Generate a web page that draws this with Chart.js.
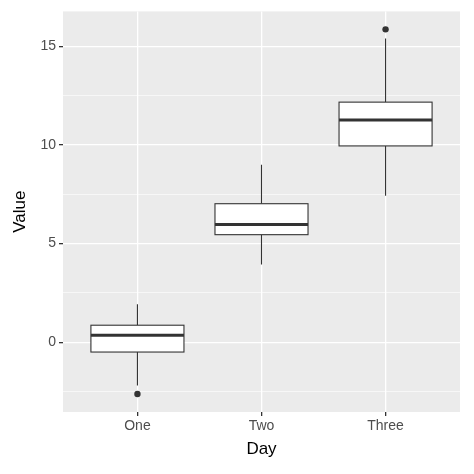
<!DOCTYPE html>
<html><head><meta charset="utf-8">
<script src="https://cdn.jsdelivr.net/npm/chart.js@4/dist/chart.umd.min.js"></script>
<style>html,body{margin:0;padding:0;background:#fff}#w{width:474px;height:474px}</style>
</head><body><div id="w"><canvas id="c"></canvas></div>
<script>
const categories = ["One","Two","Three"];
const whiskerLow = [-2.2, 3.94, 7.42];
const q1 = [-0.5, 5.45, 9.95];
const median = [0.35, 5.96, 11.26];
const q3 = [0.86, 7.02, 12.17];
const whiskerHigh = [1.92, 9.0, 15.4];
const outliers = [{x:1,y:-2.63},{x:3,y:15.86}];
const yTicks = [0,5,10,15];

const boxPlugin = {
  id:'box',
  beforeDatasetsDraw(chart){
    const ctx=chart.ctx, xs=chart.scales.x, ys=chart.scales.y;
    const hw=(xs.getPixelForValue(1.375)-xs.getPixelForValue(1));
    ctx.save();
    ctx.strokeStyle='#333333';
    categories.forEach((c,i)=>{
      const cx=xs.getPixelForValue(i+1);
      const yl=ys.getPixelForValue(whiskerLow[i]), y1=ys.getPixelForValue(q1[i]),
            ym=ys.getPixelForValue(median[i]), y3=ys.getPixelForValue(q3[i]),
            yh=ys.getPixelForValue(whiskerHigh[i]);
      ctx.lineWidth=1.1;
      ctx.beginPath();ctx.moveTo(cx,yl);ctx.lineTo(cx,y1);ctx.moveTo(cx,y3);ctx.lineTo(cx,yh);ctx.stroke();
      ctx.fillStyle='#ffffff';
      ctx.fillRect(cx-hw,y3,2*hw,y1-y3);
      ctx.strokeRect(cx-hw,y3,2*hw,y1-y3);
      ctx.lineWidth=3;
      ctx.beginPath();ctx.moveTo(cx-hw,ym);ctx.lineTo(cx+hw,ym);ctx.stroke();
    });
    ctx.restore();
  }
};
const bgPlugin={id:'bg',beforeDraw(chart){const a=chart.chartArea,ctx=chart.ctx;ctx.save();ctx.fillStyle='#ebebeb';ctx.fillRect(a.left,a.top,a.right-a.left,a.bottom-a.top);ctx.restore();}};

new Chart(document.getElementById('c'),{
  type:'scatter',
  data:{datasets:[{data:outliers,pointRadius:3.2,pointBackgroundColor:'#333333',pointBorderWidth:0,pointHoverRadius:3.2}]},
  plugins:[bgPlugin,boxPlugin],
  options:{
    responsive:true,maintainAspectRatio:false,animation:false,
    layout:{padding:{top:10,right:14,left:6,bottom:10}},
    plugins:{legend:{display:false},tooltip:{enabled:false}},
    scales:{
      x:{type:'linear',min:0.4,max:3.6,
        afterFit(s){s.height=52;},
        afterBuildTicks(s){s.ticks=[1,2,3].map(v=>({value:v}));},
        ticks:{callback:(v)=>categories[v-1]||'',color:'#4d4d4d',font:{family:'Liberation Sans, Arial',size:14},padding:2},
        grid:{color:'#ffffff',lineWidth:1.3,drawTicks:true,tickLength:4,tickColor:'#333333'},
        border:{display:false},
        title:{display:true,text:'Day',color:'#000',font:{family:'Liberation Sans, Arial',size:17},padding:{top:0}}
      },
      y:{type:'linear',min:-3.54,max:16.77,
        afterFit(s){s.width=57;},
        afterBuildTicks(s){s.ticks=[-2.5,0,2.5,5,7.5,10,12.5,15].map(v=>({value:v}));},
        ticks:{callback:(v)=>yTicks.includes(v)?String(v):'',color:'#4d4d4d',font:{family:'Liberation Sans, Arial',size:14},padding:3},
        grid:{color:'#ffffff',lineWidth:(c)=>yTicks.includes(c.tick&&c.tick.value)?1.3:0.6,
              tickLength:4,tickColor:(c)=>yTicks.includes(c.tick&&c.tick.value)?'#333333':'rgba(0,0,0,0)'},
        border:{display:false},
        title:{display:true,text:'Value',color:'#000',font:{family:'Liberation Sans, Arial',size:17},padding:{bottom:2}}
      }
    }
  }
});
</script></body></html>
